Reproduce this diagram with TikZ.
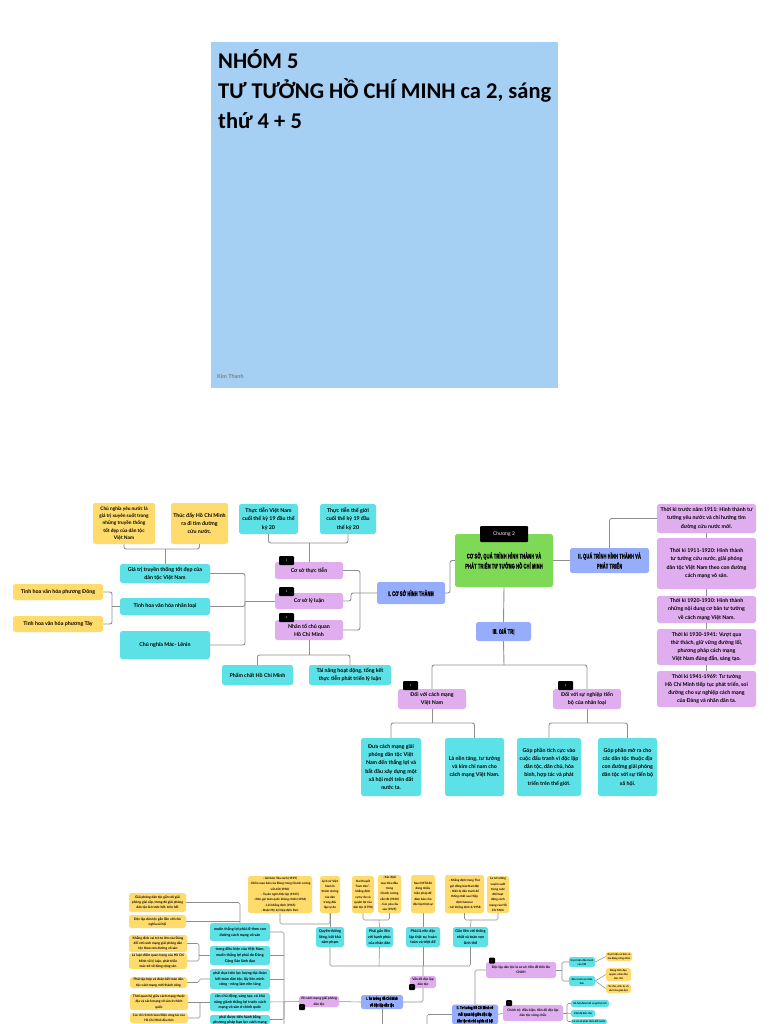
\documentclass[tikz,border=0pt]{standalone}
\usepackage{fontspec}
\setmainfont{Lato}
\newfontfamily\titlefont{Carlito}
\newfontfamily\headfont[FakeStretch=0.58,FakeBold=1.6,LetterSpace=3]{Liberation Sans}
\pgfdeclarelayer{bg}
\pgfsetlayers{bg,main}
\definecolor{tealfill}{HTML}{5CE1E6}
\definecolor{yellowfill}{HTML}{FFDB6B}
\definecolor{purplefill}{HTML}{E0ADEE}
\definecolor{bluefill}{HTML}{96ADFB}
\definecolor{greenfill}{HTML}{7ED957}
\definecolor{panelfill}{HTML}{A6CFF4}
\definecolor{linegray}{HTML}{8E8E8E}
\tikzset{
  wh/.style 2 args={minimum width=#1pt,minimum height=#2pt},
  base/.style={rounded corners=1.8pt,inner sep=0pt,align=center,text=black,font=\fontsize{5.3}{8.2}\selectfont\bfseries},
  tealbox/.style={base,fill=tealfill},
  yellowbox/.style={base,fill=yellowfill},
  purplebox/.style={base,fill=purplefill},
  bluebox/.style={base,fill=bluefill,font=\fontsize{6.8}{10}\headfont\bfseries},
  greenbox/.style={base,fill=greenfill,font=\fontsize{6.8}{10}\headfont\bfseries},
  badge/.style={rounded corners=1pt,fill=black,text=white,inner sep=0pt,align=center,font=\fontsize{2.6}{3}\selectfont},
  tiny/.style={font=\fontsize{3.3}{5.1}\selectfont\bfseries},
  tinyt/.style={font=\fontsize{3.7}{5.8}\selectfont\bfseries},
  tinyc/.style={font=\fontsize{3}{5.3}\selectfont\bfseries},
  tinyd/.style={font=\fontsize{2.6}{4}\selectfont\bfseries},
  tinyb/.style={font=\fontsize{4.4}{6.6}\headfont\bfseries},
  conn/.style={draw=linegray,line width=0.9pt,rounded corners=2.2pt},
  thin conn/.style={draw=linegray,line width=0.55pt,rounded corners=1.5pt},
}
\begin{document}
\begin{tikzpicture}[x=1pt,y=-1pt]
        \useasboundingbox (0,0) rectangle (768,1024);
        % title panel
        \fill [panelfill] (211,42) rectangle (558,388);
        \node (title) [anchor=north west,inner sep=0pt,align=left,font=\fontsize{22.5}{30}\titlefont\bfseries] at (218,49.5)
                {NHÓM 5\\TƯ TƯỞNG HỒ CHÍ MINH ca 2, sáng\\thứ 4 + 5};
        \node (author) [anchor=west,inner sep=0pt,text=gray,font=\fontsize{5.5}{7}\selectfont\bfseries] at (217,376) {Kim Thanh};
        % chapter 2 map
        \node (cen) [greenbox,wh={98}{53}] at (504,560.5) {CƠ SỞ, QUÁ TRÌNH HÌNH THÀNH VÀ\\PHÁT TRIỂN TƯ TƯỞNG HỒ CHÍ MINH};
        \node (cenb) [badge,wh={48}{16},font=\fontsize{5}{6}\selectfont] at (504,534) {Chương 2};
        \node (q1) [bluebox,wh={68}{22}] at (411,593) {I. CƠ SỞ HÌNH THÀNH};
        \node (q2) [bluebox,wh={79}{25}] at (609.5,560.5) {II. QUÁ TRÌNH HÌNH THÀNH VÀ\\PHÁT TRIỂN};
        \node (q3) [bluebox,wh={55}{19}] at (503.5,631.5) {III. GIÁ TRỊ};
        \node (cs1) [purplebox,wh={68}{17}] at (309,570.5) {Cơ sở thực tiễn};
        \node (cs2) [purplebox,wh={68}{16}] at (309,601) {Cơ sở lý luận};
        \node (cs3) [purplebox,wh={68}{20}] at (309,630) {Nhân tố chủ quan\\Hồ Chí Minh};
        \node (b1) [badge,wh={15}{9}] at (286.5,560.5) {1};
        \node (b2) [badge,wh={15}{9}] at (286.5,591.5) {2};
        \node (b3) [badge,wh={15}{9}] at (286.5,617.5) {3};
        \node (tt1) [tealbox,wh={59}{30}] at (268.5,519) {Thực tiễn Việt Nam\\cuối thế kỷ 19 đầu thế\\kỷ 20};
        \node (tt2) [tealbox,wh={56}{30}] at (348,519) {Thực tiễn thế giới\\cuối thế kỷ 19 đầu\\thế kỷ 20};
        \node (gt) [tealbox,wh={90}{19}] at (165,573.5) {Giá trị truyền thống tốt đẹp của\\dân tộc Việt Nam};
        \node (nl) [tealbox,wh={90}{17}] at (165,606.5) {Tinh hoa văn hóa nhân loại};
        \node (ml) [tealbox,wh={90}{28}] at (165,645) {Chủ nghĩa Mác- Lênin};
        \node (yn) [yellowbox,wh={62}{41},font=\fontsize{4.8}{7.3}\selectfont\bfseries] at (124,523.5) {Chủ nghĩa yêu nước là\\giá trị xuyên suốt trong\\những truyền thống\\tốt đẹp của dân tộc\\Việt Nam};
        \node (td) [yellowbox,wh={57}{41}] at (199.5,523.5) {Thúc đẩy Hồ Chí Minh\\ra đi tìm đường\\cứu nước.};
        \node (pd) [yellowbox,wh={90}{16}] at (58,592) {Tinh hoa văn hóa phương Đông};
        \node (pt) [yellowbox,wh={90}{16}] at (58,624) {Tinh hoa văn hóa phương Tây};
        \node (pc) [tealbox,wh={71}{20}] at (257.5,675) {Phẩm chất Hồ Chí Minh};
        \node (tn) [tealbox,wh={82}{20}] at (350,675) {Tài năng hoạt động, tổng kết\\thực tiễn phát triển lý luận};
        \node (tk1) [purplebox,wh={99}{29}] at (706.5,518.5) {Thời kì trước năm 1911: Hình thành tư\\tưởng yêu nước và chí hướng tìm\\đường cứu nước mới.};
        \node (tk2) [purplebox,wh={99}{51}] at (706.5,563.5) {Thời kì 1911-1920: Hình thành\\tư tưởng cứu nước, giải phóng\\dân tộc Việt Nam theo con đường\\cách mạng vô sản.};
        \node (tk3) [purplebox,wh={99}{27}] at (706.5,609.5) {Thời kì 1920-1930: Hình thành\\những nội dung cơ bản tư tưởng\\về cách mạng Việt Nam.};
        \node (tk4) [purplebox,wh={99}{36}] at (706.5,647) {Thời kì 1930-1941: Vượt qua\\thử thách, giữ vững đường lối,\\phương pháp cách mạng\\Việt Nam đúng đắn, sáng tạo.};
        \node (tk5) [purplebox,wh={99}{36}] at (706.5,689) {Thời kì 1941-1969: Tư tưởng\\Hồ Chí Minh tiếp tục phát triển, soi\\đường cho sự nghiệp cách mạng\\của Đảng và nhân dân ta.};
        \node (dv1) [purplebox,wh={68}{20}] at (432,699) {Đối với cách mạng\\Việt Nam};
        \node (dv2) [purplebox,wh={68}{20}] at (587,699) {Đối với sự nghiệp tiến\\bộ của nhân loại};
        \node (b4) [badge,wh={15}{9}] at (410.5,685.5) {1};
        \node (b5) [badge,wh={15}{9}] at (565.5,685.5) {2};
        \node (gt1) [tealbox,wh={60}{58}] at (391,767) {Đưa cách mạng giải\\phóng dân tộc Việt\\Nam đến thắng lợi và\\bắt đầu xây dựng một\\xã hội mới trên đất\\nước ta.};
        \node (gt2) [tealbox,wh={59}{58}] at (474.5,767) {Là nền tảng, tư tưởng\\và kim chỉ nam cho\\cách mạng Việt Nam.};
        \node (gt3) [tealbox,wh={64}{58}] at (549,767) {Góp phần tích cực vào\\cuộc đấu tranh vì độc lập\\dân tộc, dân chủ, hòa\\bình, hợp tác và phát\\triển trên thế giới.};
        \node (gt4) [tealbox,wh={59}{58}] at (627.5,767) {Góp phần mở ra cho\\các dân tộc thuộc địa\\con đường giải phóng\\dân tộc với sự tiến bộ\\xã hội.};
        \coordinate (jy) at (165,549);
        \coordinate (jt) at (309,543);
        \coordinate (jl) at (245,601);
        \coordinate (jr) at (360,593);
        \coordinate (jq) at (351,593);
        \coordinate (jw) at (112,606.5);
        \coordinate (jn) at (309,655);
        \coordinate (ji) at (450,580);
        \coordinate (jv) at (504,665);
        \coordinate (jd1) at (432,723);
        \coordinate (jd2) at (587,723);
        % chapter 3 map
        \node (m1) [bluebox,wh={42}{14},tinyb] at (382,1002) {I. Tư tưởng Hồ Chí Minh\\về độc lập dân tộc};
        \node (m2) [bluebox,wh={46}{20},tinyb] at (475,1014.5) {II. Tư tưởng Hồ Chí Minh về\\mối quan hệ giữa độc lập\\dân tộc và chủ nghĩa xã hội};
        \node (p1) [purplebox,wh={40}{11},tiny] at (319,1001.5) {Về cách mạng giải phóng\\dân tộc};
        \node (p2) [purplebox,wh={26}{12},tiny] at (423,982) {Vấn đề độc lập\\dân tộc};
        \node (p3) [purplebox,wh={70}{16},tiny] at (521,970) {Độc lập dân tộc là cơ sở, tiền đề tiến lên\\CNXH};
        \node (p4) [purplebox,wh={60}{16},tiny] at (533,1013) {Chính trị: điều kiện, tiền đề độc lập\\dân tộc vững chắc};
        \node (b6) [badge,wh={6}{6},font=\fontsize{1.5}{2}\selectfont] at (302,1007) {1};
        \node (b7) [badge,wh={6}{6},font=\fontsize{1.5}{2}\selectfont] at (412,987) {2};
        \node (b8) [badge,wh={6}{6},font=\fontsize{1.5}{2}\selectfont] at (492,960.5) {1};
        \node (b9) [badge,wh={6}{6},font=\fontsize{1.5}{2}\selectfont] at (509,1003) {2};
        \node (t1) [tealbox,wh={60}{18},tinyt] at (240,932) {muốn thắng lợi phải đi theo con\\đường cách mạng vô sản};
        \node (t2) [tealbox,wh={60}{19},tinyt] at (240,955.5) {trong điều kiện của VIệt Nam,\\muốn thắng lợi phải do Đảng\\Cộng Sản lãnh đạo};
        \node (t3) [tealbox,wh={60}{20},tinyt] at (240,979) {phải dựa trên lực lượng đại đoàn\\kết toàn dân tộc, lấy liên minh\\công - nông làm nền tảng};
        \node (t4) [tealbox,wh={60}{18},tinyt] at (240,1002) {cần chủ động, sáng tạo, có khả\\năng giành thắng lợi trước cách\\mạng vô sản ở chính quốc};
        \node (t5) [tealbox,wh={60}{9},font=\fontsize{3.7}{4.5}\selectfont\bfseries] at (240,1019.5) {phải được tiến hành bằng\\phương pháp bạo lực cách mạng};
        \node (y1) [yellowbox,wh={57}{19},tiny] at (157.5,902.5) {Giải phóng dân tộc gắn với giải\\phóng giai cấp, trong đó giải phóng\\dân tộc là trước hết, trên hết};
        \node (y2) [yellowbox,wh={57}{13},tiny] at (157.5,921.5) {Độc lập dân tộc gắn liền với chủ\\nghĩa xã hội};
        \node (y3) [yellowbox,wh={58}{17},tiny] at (158,943.5) {Khẳng định vai trò to lớn của Đảng\\đối với cách mạng giải phóng dân\\tộc theo con đường vô sản};
        \node (y4) [yellowbox,wh={58}{16},tiny] at (158,961) {Là luận điểm quan trọng của Hồ Chí\\Minh về lý luận, phát triển\\mác-xít về đảng cộng sản};
        \node (y5) [yellowbox,wh={57}{11},tiny] at (158.5,982.5) {Phải tập hợp và đoàn kết toàn dân\\tộc cách mạng mới thành công};
        \node (y6) [yellowbox,wh={58}{16},tiny] at (159,1002) {Thời quan hệ giữa cách mạng thuộc\\địa và cách mạng vô sản ở chính\\quốc};
        \node (y7) [yellowbox,wh={58}{10},font=\fontsize{3.1}{4.4}\selectfont\bfseries] at (159,1018) {Các chỉ rõ tính toàn Điện công tác của\\Hồ Chí Minh đầu tiên};
        \node (a1) [yellowbox,wh={64}{37},tinyc] at (280,894.5) {- Gửi bản Yêu sách (1919)\\- Điểm mạo bản của Đảng trong Chánh cương\\vắn tắt (1930)\\- Tuyên ngôn Độc lập (1945)\\- Đòn gọi toàn quốc kháng chiến (1946)\\- Lời khẳng định (1965)\\- Buộc Mỹ ký hiệp định Pari.};
        \node (a2) [yellowbox,wh={20}{37},tinyc] at (330,894.5) {Lịch sử Việt\\Nam là\\thành chứng\\của dân\\trong đấu\\lập tự do};
        \node (a3) [yellowbox,wh={22}{37},tinyc] at (363,894.5) {Hai thuyết\\"ham dân" -\\khẳng định\\sự tự do và\\quyền lợi của\\dân tộc (1790)};
        \node (a4) [yellowbox,wh={23}{38},tinyc] at (389.5,894) {- Xác định\\mục tiêu đầu\\trong\\Chánh cương\\vắn tắt (1930)\\- Các yêu cầu\\sau (1925)};
        \node (a5) [yellowbox,wh={24}{38},tinyc] at (423,894) {Sau CMT8 đã\\dùng nhiều\\biện pháp để\\đảm bảo cho\\độc lập thật sự};
        \node (a6) [yellowbox,wh={39}{38},tinyc] at (464.5,894) {- Khẳng định trong Thư\\gửi đồng bào Nam Bộ\\- Hiến bị đấu tranh để\\thống nhất sau Hiệp\\định Geneve\\- Lời khẳng định 2/1958};
        \node (a7) [yellowbox,wh={22}{37},tinyc] at (498,894.5) {Là tư tưởng\\xuyên suốt\\trong cuộc\\đời hoạt\\động cách\\mạng của Hồ\\Chí Minh};
        \node (c1) [tealbox,wh={28}{20},tinyt] at (330,937) {Quyền thiêng\\liêng, bất khả\\xâm phạm};
        \node (c2) [tealbox,wh={27}{20},tinyt] at (379.5,937) {Phải gắn liền\\với hạnh phúc\\của nhân dân};
        \node (c3) [tealbox,wh={34}{20},tinyt] at (423,937) {Phải là nền độc\\lập thật sự, hoàn\\toàn và triệt để};
        \node (c4) [tealbox,wh={35}{20},tinyt] at (470.5,937) {Gắn liền với thống\\nhất và toàn vẹn\\lãnh thổ};
        \node (r1) [tealbox,wh={26}{10},tinyd] at (582,962) {thực hiện đấu tranh\\của CM};
        \node (r2) [tealbox,wh={26}{10},tinyd] at (582,981) {đấu tranh và nhân\\dân};
        \node (r3) [yellowbox,wh={26}{9},tinyd] at (619,956.5) {thực hiện cơ bản và\\lao động công nhân};
        \node (r4) [yellowbox,wh={25}{13},tinyd] at (618.5,974.5) {Đảng lãnh đạo\\quyền, nhân dân\\làm chủ};
        \node (r5) [yellowbox,wh={25}{9},tinyd] at (618.5,988.5) {Tự chủ, sinh tự và\\văn hóa giáo dục};
        \node (s1) [tealbox,wh={38}{7},tinyd] at (590,1003.5) {Xã hội đoàn kết và giữ lợi ích};
        \node (s2) [tealbox,wh={24}{7},tinyd] at (583,1013.5) {Chế độ dân chủ};
        \node (s3) [tealbox,wh={36}{5},tinyd] at (589,1021.5) {Là cơ sở phát triển đất nước};
        \coordinate (ja) at (330,924);
        \coordinate (jc) at (379,920);
        \coordinate (jf) at (471,920);
        \coordinate (jh) at (379,966);
        \coordinate (jg) at (423,966);
        \coordinate (jb) at (284,1002);
        \coordinate (jo) at (284,1024);
        \coordinate (ju) at (240,921.5);
        \coordinate (je) at (199,955.5);
        \coordinate (jk) at (199,979);
        \coordinate (jj) at (200,1002);
        \coordinate (jx) at (382,1024);
        \coordinate (jz) at (427,1024);
        \coordinate (jp) at (562,970);
        \coordinate (js) at (567,1013);
        \begin{pgfonlayer}{bg}
                \draw [conn] (yn.south) |- (jy) -| (td.south);
                \draw [conn] (jy) -- (gt.north);
                \draw [conn] (tt1.south) |- (jt) -| (tt2.south);
                \draw [conn] (jt) -- (cs1.north);
                \draw [conn] (gt.east) -| (jl);
                \draw [conn] (ml.east) -| (jl);
                \draw [conn] (nl.east) -| (jl);
                \draw [conn] (jl) -- (cs2.west);
                \draw [conn] (pd.east) -| (jw);
                \draw [conn] (pt.east) -| (jw);
                \draw [conn] (jw) -- (nl.west);
                \draw [conn] (cs1.east) -| (jr);
                \draw [conn] (cs3.east) -| (jr);
                \draw [conn] (cs2.east) -| (jq) -- (q1.west);
                \draw [conn] (cs3.south) -- (jn);
                \draw [conn] (pc.north) |- (jn) -| (tn.north);
                \draw [conn] (q1.east) -| (ji) |- (cen.west);
                \draw [conn] (cen.east) -- (q2.west);
                \draw [conn] (q2.north) |- (tk1.west);
                \draw [conn] (tk1) -- (tk2);
                \draw [conn] (tk2) -- (tk3);
                \draw [conn] (tk3) -- (tk4);
                \draw [conn] (tk4) -- (tk5);
                \draw [conn] (cen.south) -- (q3.north);
                \draw [conn] (q3.south) -- (jv);
                \draw [conn] (dv1.north) |- (jv) -| (dv2.north);
                \draw [conn] (dv1.south) -- (jd1);
                \draw [conn] (gt1.north) |- (jd1) -| (gt2.north);
                \draw [conn] (dv2.south) -- (jd2);
                \draw [conn] (gt3.north) |- (jd2) -| (gt4.north);
                \draw [thin conn] (y1.east) -| (ju) -- (t1.north);
                \draw [thin conn] (y2.east) -- (ju);
                \draw [thin conn] (y3.east) -| (je);
                \draw [thin conn] (y4.east) -| (je);
                \draw [thin conn] (je) -- (t2.west);
                \draw [thin conn] (y5.east) -| (jk) -- (t3.west);
                \draw [thin conn] (y6.east) -- (t4.west);
                \draw [thin conn] (y7.east) -| (jj);
                \draw [thin conn] (t1.east) -| (jo);
                \draw [thin conn] (t2.east) -- ++(14,0);
                \draw [thin conn] (t3.east) -- ++(14,0);
                \draw [thin conn] (t4.east) -- (p1.west);
                \draw [thin conn] (t5.east) -| (jb);
                \draw [thin conn] (p1.east) -- (m1.west);
                \draw [thin conn] (m1.east) -| (jg);
                \draw [thin conn] (jg) -- (c3.south);
                \draw [thin conn] (c1.south) |- (jg);
                \draw [thin conn] (c2.south) -- (jh);
                \draw [thin conn] (c4.south) |- (jg);
                \draw [thin conn] (a1.south) |- (ja) -- (a2.south);
                \draw [thin conn] (a2.south) -- (c1.north);
                \draw [thin conn] (a3.south) |- (jc) -| (a4.south);
                \draw [thin conn] (jc) -- (c2.north);
                \draw [thin conn] (a5.south) -- (c3.north);
                \draw [thin conn] (a6.south) |- (jf) -| (a7.south);
                \draw [thin conn] (jf) -- (c4.north);
                \draw [thin conn] (m1.south) -- (jx);
                \draw [thin conn] (m2.north) |- (p3.west);
                \draw [thin conn] (m2.west) -| (jz);
                \draw [thin conn] (m2.east) -- (p4.west);
                \draw [thin conn] (p3.east) -- (jp);
                \draw [thin conn] (jp) |- (r1.west);
                \draw [thin conn] (jp) |- (r2.west);
                \draw [thin conn] (r1.east) -- (r3.west);
                \draw [thin conn] (r2.east) -- (r4.west);
                \draw [thin conn] (r2.east) -- (r5.west);
                \draw [thin conn] (p4.east) -- (js);
                \draw [thin conn] (js) |- (s1.west);
                \draw [thin conn] (js) |- (s3.west);
                \draw [thin conn] (js) -- (s2.west);
        \end{pgfonlayer}
\end{tikzpicture}
\end{document}
